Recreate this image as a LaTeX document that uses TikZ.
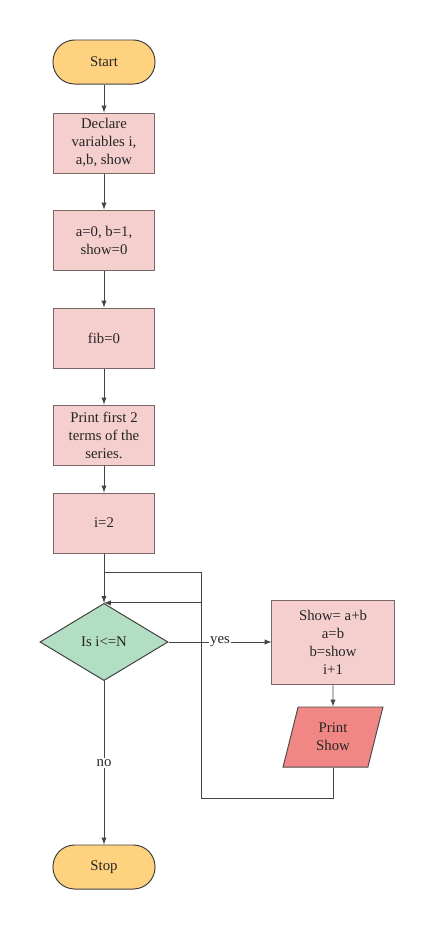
\documentclass[tikz,border=0pt]{standalone}
\usepackage{fontspec}
\setmainfont{Liberation Serif}
\usetikzlibrary{arrows,shapes,positioning,calc}
\definecolor{termfill}{HTML}{FFD27F}
\definecolor{boxfill}{HTML}{F5CECE}
\definecolor{boxline}{HTML}{7A6666}
\definecolor{condfill}{HTML}{B2DEC4}
\definecolor{outfill}{HTML}{F08784}
\definecolor{wire}{HTML}{444444}

\begin{document}
\begin{tikzpicture}[x=0.025cm, y=-0.025cm, >=latex,
    every node/.style={font=\fontsize{10.5}{12.8}\selectfont, text=black!85},
    term/.style={rectangle, rounded corners=0.54cm, draw=black!75, fill=termfill, line width=0.7pt,
        minimum width=2.55cm, minimum height=1.1cm},
    proc/.style={rectangle, draw=boxline, fill=boxfill, line width=0.7pt,
        minimum width=2.5cm, minimum height=1.5cm, align=center},
    cond/.style={diamond, draw=black!75, fill=condfill, line width=0.7pt,
        minimum width=3.2cm, minimum height=1.93cm, aspect=1.66, inner sep=0pt},
    io/.style={trapezium, trapezium left angle=76, trapezium right angle=104,
        trapezium stretches=true, draw=black!70, fill=outfill, line width=0.7pt,
        minimum width=2.5cm, minimum height=1.5cm, align=center},
    wire/.style={draw=wire, line width=0.7pt}]
    \useasboundingbox (0,0) rectangle (434,928);

    % Main column
    \node[term] (start) at (104,62) {Start};
    \node[proc] (decl) at (104,143) {Declare\\variables i,\\a,b, show};
    \node[proc] (init) at (104,240) {a=0, b=1,\\show=0};
    \node[proc] (fib) at (104,338) {fib=0};
    \node[proc] (first) at (104,435) {Print first 2\\terms of the\\series.};
    \node[proc] (iset) at (104,523) {i=2};
    \node[cond] (test) at (104,642) {Is i<=N};
    \node[term] (stop) at (104,867) {Stop};

    % Loop body
    \node[proc, minimum width=3.05cm, minimum height=2.1cm] (body) at (333,642)
        {Show= a+b\\a=b\\b=show\\i+1};
    \node[io] (show) at (333,737) {Print\\Show};

    % Connectors
    \foreach \a/\b in {start/decl, decl/init, init/fib, fib/first, first/iset, iset/test, body/show} {
        \draw[wire,->] (\a) -- (\b);
    }
    \draw[wire,->] (test.east) -- node[fill=white, inner sep=1pt] (yes) {yes} (body.west);
    \draw[wire,->] (test.south) -- node[fill=white, inner sep=1pt] (no) {no} (stop.north);

    % Way back to the test
    \coordinate (backR) at (201,798);
    \coordinate (backT) at (201,572);
    \coordinate (backL) at (104,572);
    \coordinate (backM) at (backT |- test.north);
    \draw[wire] (show.south) |- (backR) -- (backT) -- (backL);
    \draw[wire,->] (backM) -- (test.north);
\end{tikzpicture}
\end{document}
